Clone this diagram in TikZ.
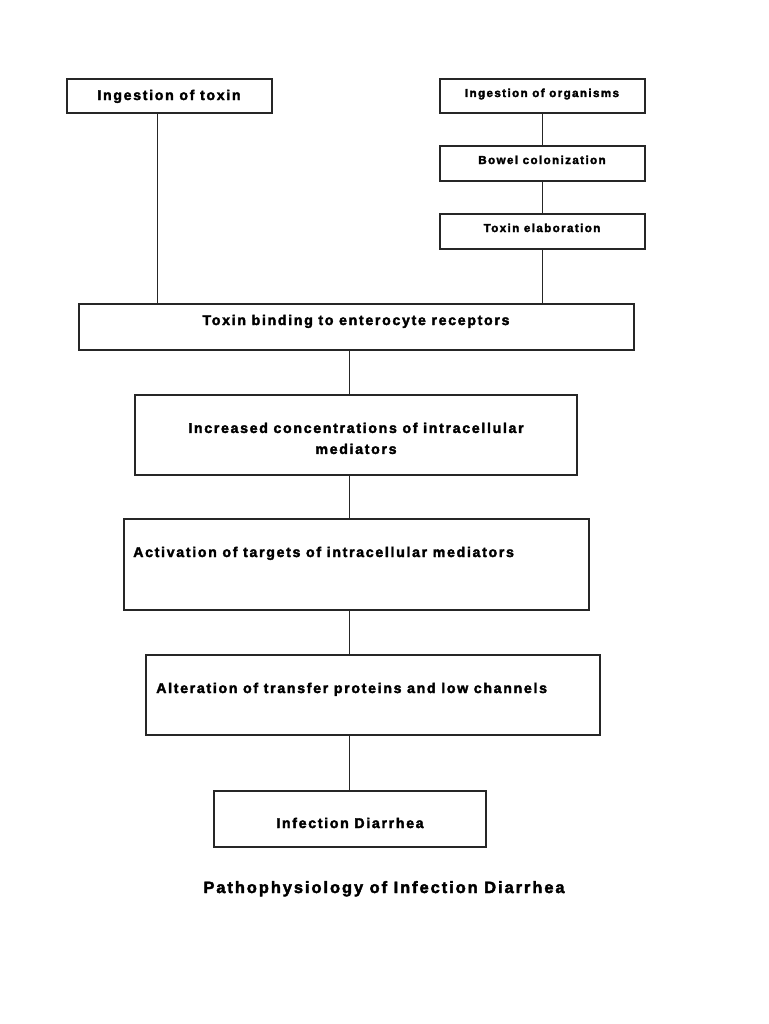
\documentclass[tikz,border=0pt]{standalone}
\usepackage{fontspec}
\setmainfont{Liberation Sans}[LetterSpace=12, BoldFeatures={FakeBold=2.5}]
\usetikzlibrary{fit}

\tikzset{
  box/.style={draw=black!85, line width=0.8pt, inner sep=0pt, fill=white},
  txt/.style={inner sep=0pt, anchor=base, font=\bfseries\fontsize{10.6}{15.75}\selectfont},
  smalltxt/.style={txt, font=\bfseries\fontsize{8.7}{10.4}\selectfont},
  link/.style={draw=black!85, line width=0.75pt}
}

\begin{document}
\begin{tikzpicture}[x=0.75pt,y=-0.75pt]
\useasboundingbox (0,0) rectangle (768,1024);
% boxes
\node[box, fit={(67,79) (272,113)}] (toxin) {};
\node[box, fit={(440,79) (645,113)}] (organisms) {};
\node[box, fit={(440,146) (645,181)}] (colon) {};
\node[box, fit={(440,214) (645,249)}] (elab) {};
\node[box, fit={(79,304) (634,350)}] (binding) {};
\node[box, fit={(135,395) (577,475)}] (mediators) {};
\node[box, fit={(124,519) (589,610)}] (targets) {};
\node[box, fit={(146,655) (600,735)}] (channels) {};
\node[box, fit={(214,791) (486,847)}] (diarrhea) {};
% texts
\node[txt] (toxintxt) at (169,100) {Ingestion of toxin};
\node[smalltxt] (organismstxt) at (542,97) {Ingestion of organisms};
\node[smalltxt] (colontxt) at (542,164) {Bowel colonization};
\node[smalltxt] (elabtxt) at (542,232) {Toxin elaboration};
\node[txt] (bindingtxt) at (356,325) {Toxin binding to enterocyte receptors};
\node[txt, anchor=north, align=center, text height=11pt] (mediatorstxt) at (356,439)
  {Increased concentrations of intracellular\\mediators};
\node[txt, anchor=base west] (targetstxt) at (133,557) {Activation of targets of intracellular mediators};
\node[txt, anchor=base west] (channelstxt) at (156,693) {Alteration of transfer proteins and low channels};
\node[txt] (diarrheatxt) at (350,828) {Infection Diarrhea};
\node[txt, font=\bfseries\fontsize{12.3}{15}\selectfont] (title) at (384,893)
  {Pathophysiology of Infection Diarrhea};
% connectors
\coordinate (lx) at (157,0);
\coordinate (cx) at (349,0);
\draw[link] (toxin.south -| lx) -- (binding.north -| lx);
\draw[link] (organisms) -- (colon);
\draw[link] (colon) -- (elab);
\draw[link] (elab) -- (elab |- binding.north);
\draw[link] (binding.south -| cx) -- (mediators.north -| cx);
\draw[link] (mediators.south -| cx) -- (targets.north -| cx);
\draw[link] (targets.south -| cx) -- (channels.north -| cx);
\draw[link] (channels.south -| cx) -- (diarrhea.north -| cx);
\end{tikzpicture}
\end{document}
